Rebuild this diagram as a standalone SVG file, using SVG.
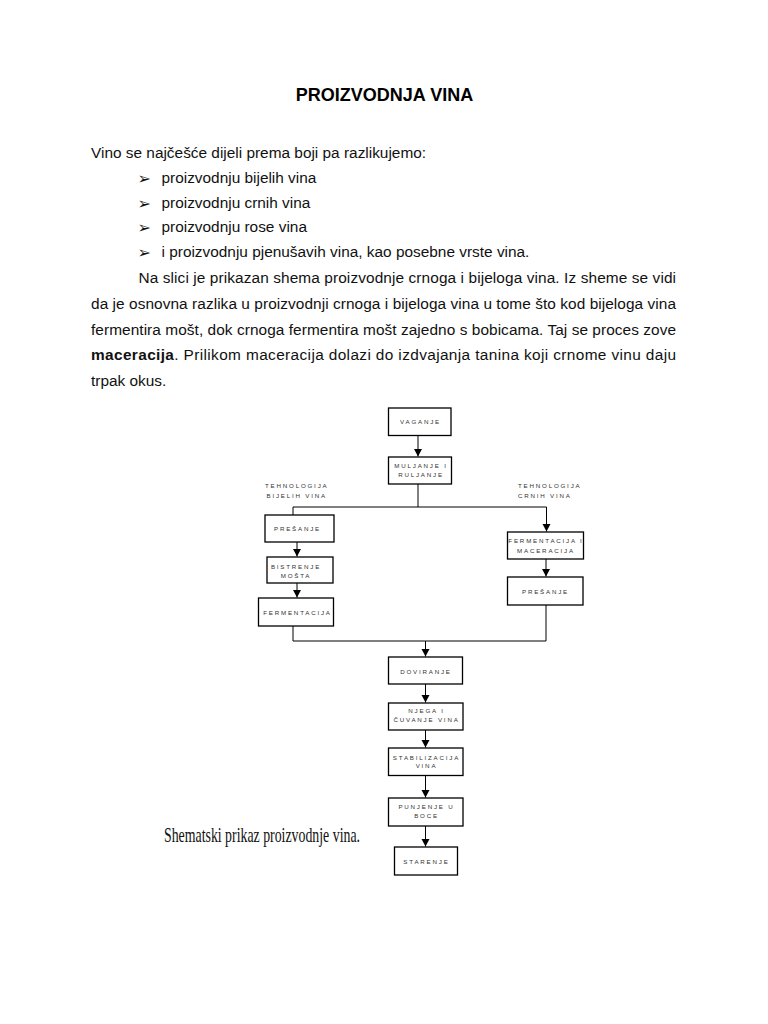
<svg xmlns="http://www.w3.org/2000/svg" width="768" height="1024" viewBox="0 0 768 1024">
<style>
.body{font-family:"Liberation Sans",Arial,sans-serif;font-size:15.4px;fill:#111}
.title{font-family:"Liberation Sans",Arial,sans-serif;font-size:18px;font-weight:bold;fill:#000}
.bul{font-family:"DejaVu Sans",sans-serif;font-size:16px;fill:#111}
.box{fill:#fff;stroke:#000;stroke-width:1.3}
.lbl{font-family:"Liberation Sans",Arial,sans-serif;font-size:6.2px;letter-spacing:1.8px;fill:#333;text-anchor:middle}
.side{font-family:"Liberation Sans",Arial,sans-serif;font-size:6.2px;letter-spacing:1.8px;fill:#333}
.conn{fill:none;stroke:#000;stroke-width:1}
.cap{font-family:"Liberation Serif","Times New Roman",serif;font-size:22px;fill:#111}
</style>
<defs>
<marker id="arr" markerUnits="userSpaceOnUse" markerWidth="9" markerHeight="9" refX="7.5" refY="4" orient="auto">
<path d="M0,0 L7.5,4 L0,8 z" fill="#000"/>
</marker>
</defs>
<rect width="768" height="1024" fill="#fff"/>

<g id="text">
<text class="title" x="384.5" y="101" text-anchor="middle">PROIZVODNJA VINA</text>
<text class="body" x="91" y="158">Vino se najčešće dijeli prema boji pa razlikujemo:</text>
<text class="bul" x="137.5" y="184">➢</text><text class="body" x="161.5" y="183">proizvodnju bijelih vina</text>
<text class="bul" x="137.5" y="209">➢</text><text class="body" x="161.5" y="208">proizvodnju crnih vina</text>
<text class="bul" x="137.5" y="233">➢</text><text class="body" x="161.5" y="232">proizvodnju rose vina</text>
<text class="bul" x="137.5" y="258">➢</text><text class="body" x="161.5" y="257">i proizvodnju pjenušavih vina, kao posebne vrste vina.</text>
<text class="body" x="138.5" y="283" textLength="537.5" lengthAdjust="spacing">Na slici je prikazan shema proizvodnje crnoga i bijeloga vina. Iz sheme se vidi</text>
<text class="body" x="91" y="309" textLength="585" lengthAdjust="spacing">da je osnovna razlika u proizvodnji crnoga i bijeloga vina u tome što kod bijeloga vina</text>
<text class="body" x="91" y="334.5" textLength="585" lengthAdjust="spacing">fermentira mošt, dok crnoga fermentira mošt zajedno s bobicama. Taj se proces zove</text>
<text class="body" x="91" y="360" textLength="585" lengthAdjust="spacing"><tspan font-weight="bold">maceracija</tspan>. Prilikom maceracija dolazi do izdvajanja tanina koji crnome vinu daju</text>
<text class="body" x="91" y="386">trpak okus.</text>
</g>

<g id="connectors">
<path class="conn" d="M418,435.5 V456.5" marker-end="url(#arr)"/>
<path class="conn" d="M418,484 V507"/>
<path class="conn" d="M418,507 H293 V515"/>
<path class="conn" d="M418,507 H546.5 V531.5" marker-end="url(#arr)"/>
<path class="conn" d="M297,542 V556.5" marker-end="url(#arr)"/>
<path class="conn" d="M297,583 V597.5" marker-end="url(#arr)"/>
<path class="conn" d="M293,626 V641 H425.5 V656.5" marker-end="url(#arr)"/>
<path class="conn" d="M546,559 V576.5" marker-end="url(#arr)"/>
<path class="conn" d="M546,605 V641 H425.5"/>
<path class="conn" d="M425.5,684 V702.5" marker-end="url(#arr)"/>
<path class="conn" d="M425.5,730 V747.5" marker-end="url(#arr)"/>
<path class="conn" d="M425.5,775 V797.5" marker-end="url(#arr)"/>
<path class="conn" d="M425.5,826 V846.5" marker-end="url(#arr)"/>
</g>

<g id="n-vaganje"><rect class="box" x="388.5" y="408" width="62.5" height="27.5"/><text class="lbl" x="420.5" y="424.2">VAGANJE</text></g>
<g id="n-muljanje"><rect class="box" x="388.5" y="457" width="63" height="27"/><text class="lbl" x="421" y="468.3">MULJANJE I</text><text class="lbl" x="421" y="477.3">RULJANJE</text></g>
<g id="n-teh-bijelih"><text class="side" x="265" y="488">TEHNOLOGIJA</text><text class="side" x="266.5" y="498">BIJELIH VINA</text></g>
<g id="n-teh-crnih"><text class="side" x="518" y="488">TEHNOLOGIJA</text><text class="side" x="518" y="498">CRNIH VINA</text></g>
<g id="n-presanje-b"><rect class="box" x="265" y="515" width="69" height="27"/><text class="lbl" x="297.5" y="530.7">PREŠANJE</text></g>
<g id="n-bistrenje"><rect class="box" x="267" y="557" width="66" height="26"/><text class="lbl" x="296" y="569">BISTRENJE</text><text class="lbl" x="296" y="577.7">MOŠTA</text></g>
<g id="n-fermentacija"><rect class="box" x="258.5" y="598" width="75" height="28"/><text class="lbl" x="297.5" y="614.5">FERMENTACIJA</text></g>
<g id="n-ferm-mac"><rect class="box" x="507.5" y="532" width="76" height="27"/><text class="lbl" x="546" y="543.2">FERMENTACIJA I</text><text class="lbl" x="546" y="553">MACERACIJA</text></g>
<g id="n-presanje-c"><rect class="box" x="507.5" y="577" width="75.5" height="28"/><text class="lbl" x="545.5" y="593.5">PREŠANJE</text></g>
<g id="n-doviranje"><rect class="box" x="388.5" y="657" width="74" height="27"/><text class="lbl" x="426" y="673.5">DOVIRANJE</text></g>
<g id="n-njega"><rect class="box" x="388.5" y="703" width="74.5" height="27"/><text class="lbl" x="426.5" y="713">NJEGA I</text><text class="lbl" x="426.5" y="721.7">ČUVANJE VINA</text></g>
<g id="n-stabilizacija"><rect class="box" x="388.5" y="748" width="74.5" height="27.5"/><text class="lbl" x="426.5" y="759.5">STABILIZACIJA</text><text class="lbl" x="426.5" y="768.2">VINA</text></g>
<g id="n-punjenje"><rect class="box" x="388.5" y="798" width="74.5" height="28"/><text class="lbl" x="426.5" y="809">PUNJENJE U</text><text class="lbl" x="426.5" y="818">BOCE</text></g>
<g id="n-starenje"><rect class="box" x="394.5" y="847" width="63" height="28"/><text class="lbl" x="426.5" y="863.5">STARENJE</text></g>

<g id="caption"><text class="cap" x="164" y="841.5" textLength="196" lengthAdjust="spacingAndGlyphs">Shematski prikaz proizvodnje vina.</text></g>
</svg>
